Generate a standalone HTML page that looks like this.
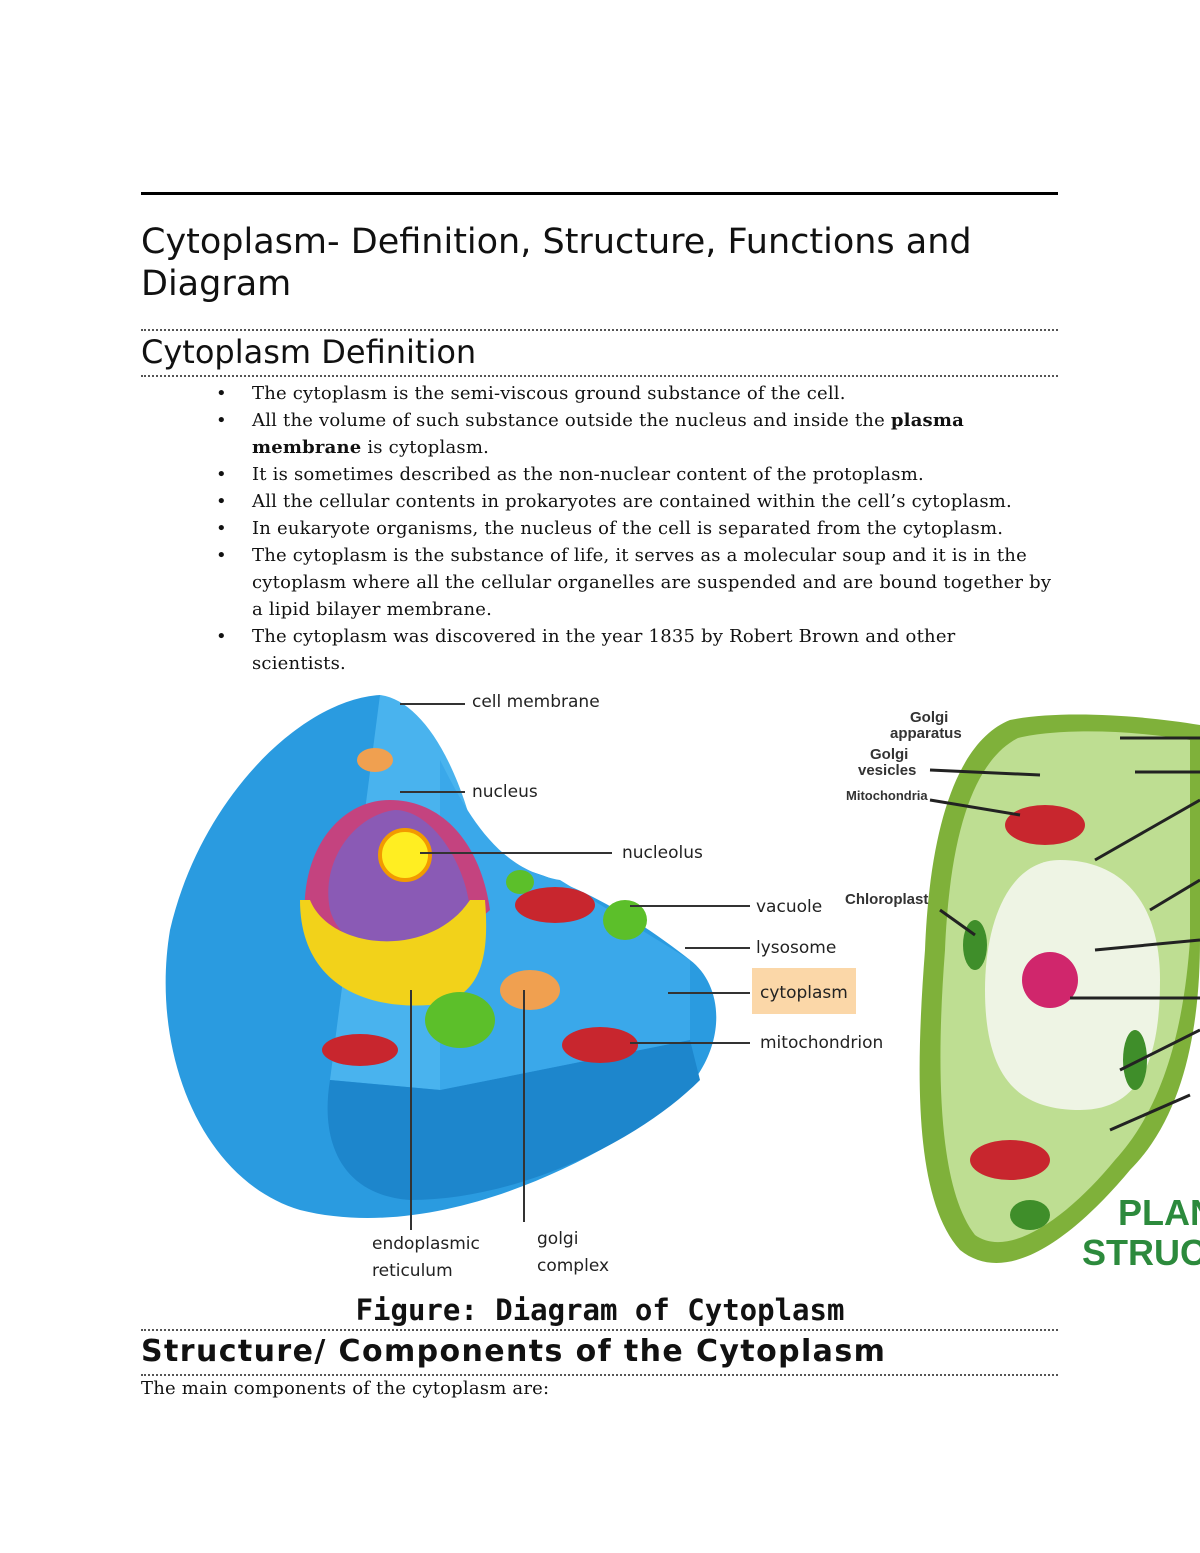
<!DOCTYPE html>
<html><head><meta charset="utf-8"><style>
body{margin:0;width:1200px;height:1553px;background:#fff;position:relative;overflow:hidden;font-family:"DejaVu Sans","Liberation Sans",sans-serif;color:#111}
.a{position:absolute;white-space:nowrap}
.dot{position:absolute;left:141px;width:917px;height:0;border-top:2px dotted #555}
.b{position:absolute;left:252px;font-family:"DejaVu Serif","Liberation Serif",serif;font-size:18px;letter-spacing:0.2px;line-height:27px;white-space:nowrap}
.b:before{content:"•";position:absolute;left:-36px}
.lbl{font-family:"DejaVu Sans",sans-serif;font-size:17px;fill:#222}
</style></head><body>
<div class="a" style="left:141px;top:192px;width:917px;height:3px;background:#000"></div>
<div class="a" style="left:141px;top:221px;font-size:35px;line-height:42px">Cytoplasm- Definition, Structure, Functions and<br>Diagram</div>
<div class="dot" style="top:329px"></div>
<div class="a" style="left:141px;top:333px;font-size:32px;line-height:38px">Cytoplasm Definition</div>
<div class="dot" style="top:375px"></div>
<div class="b" style="top:380px">The cytoplasm is the semi-viscous ground substance of the cell.</div>
<div class="b" style="top:407px">All the volume of such substance outside the nucleus and inside the <b>plasma</b><br><b>membrane</b> is cytoplasm.</div>
<div class="b" style="top:461px">It is sometimes described as the non-nuclear content of the protoplasm.</div>
<div class="b" style="top:488px">All the cellular contents in prokaryotes are contained within the cell’s cytoplasm.</div>
<div class="b" style="top:515px">In eukaryote organisms, the nucleus of the cell is separated from the cytoplasm.</div>
<div class="b" style="top:542px">The cytoplasm is the substance of life, it serves as a molecular soup and it is in the<br>cytoplasm where all the cellular organelles are suspended and are bound together by<br>a lipid bilayer membrane.</div>
<div class="b" style="top:623px">The cytoplasm was discovered in the year 1835 by Robert Brown and other<br>scientists.</div>

<svg class="a" style="left:0;top:680px" width="1200" height="610" viewBox="0 680 1200 610">
<path d="M380 695 C300 700 200 800 170 930 C150 1050 200 1180 300 1210 C420 1240 560 1180 650 1120 C730 1070 730 990 690 960 C640 920 560 870 480 860 L440 760 Z" fill="#2a9be0"/>
<path d="M380 695 C420 700 460 760 480 860 L440 1090 L330 1080 Z" fill="#49b3ee"/>
<path d="M330 1080 L440 1090 L690 1040 L700 1080 C640 1140 520 1200 410 1200 C340 1195 320 1140 330 1080Z" fill="#1d86cc"/>
<path d="M440 760 C470 820 500 870 560 880 L690 960 L690 1040 L440 1090Z" fill="#3aa8ea"/>
<path d="M390 800 C340 800 300 850 305 920 C310 960 340 990 400 990 L490 910 C480 840 440 800 390 800Z" fill="#c4437f"/>
<path d="M395 810 C355 815 320 860 330 910 C340 945 380 960 420 950 L470 910 C465 860 430 810 395 810Z" fill="#8a5ab5"/>
<path d="M300 900 C300 980 360 1010 430 1005 C480 1000 490 960 485 900 L470 900 C430 960 330 950 310 900Z" fill="#f2d21a"/>
<circle cx="405" cy="855" r="25" fill="#ffee22" stroke="#f29a00" stroke-width="4"/>
<ellipse cx="460" cy="1020" rx="35" ry="28" fill="#5cbf2a"/><ellipse cx="625" cy="920" rx="22" ry="20" fill="#5cbf2a"/><ellipse cx="520" cy="882" rx="14" ry="12" fill="#5cbf2a"/>
<ellipse cx="555" cy="905" rx="40" ry="18" fill="#c8262e"/><ellipse cx="360" cy="1050" rx="38" ry="16" fill="#c8262e"/><ellipse cx="600" cy="1045" rx="38" ry="18" fill="#c8262e"/>
<ellipse cx="530" cy="990" rx="30" ry="20" fill="#f0a050"/><ellipse cx="375" cy="760" rx="18" ry="12" fill="#f0a050"/>
<g stroke="#333" stroke-width="2"><line x1="400" y1="704" x2="465" y2="704"/><line x1="400" y1="792" x2="465" y2="792"/><line x1="420" y1="853" x2="612" y2="853"/><line x1="630" y1="906" x2="750" y2="906"/><line x1="685" y1="948" x2="750" y2="948"/><line x1="668" y1="993" x2="750" y2="993"/><line x1="630" y1="1043" x2="750" y2="1043"/><line x1="411" y1="990" x2="411" y2="1230"/><line x1="524" y1="990" x2="524" y2="1222"/></g>
<rect x="752" y="968" width="104" height="46" fill="#fbd7a8"/>
<g class="lbl"><text x="472" y="707">cell membrane</text><text x="472" y="797">nucleus</text><text x="622" y="858">nucleolus</text><text x="756" y="912">vacuole</text><text x="756" y="953">lysosome</text><text x="760" y="998">cytoplasm</text><text x="760" y="1048">mitochondrion</text><text x="372" y="1249">endoplasmic</text><text x="372" y="1276">reticulum</text><text x="537" y="1244">golgi</text><text x="537" y="1271">complex</text></g>
<path d="M1010 720 C960 740 930 820 925 950 C915 1080 915 1200 960 1250 C1010 1290 1080 1230 1130 1170 C1190 1110 1200 1010 1200 940 L1200 725 C1140 715 1060 710 1010 720Z" fill="#7fb13a"/>
<path d="M1018 738 C975 760 950 830 945 950 C935 1080 940 1190 975 1235 C1010 1260 1070 1215 1115 1160 C1170 1100 1185 1010 1190 940 L1190 740 C1130 730 1060 728 1018 738Z" fill="#bede92"/>
<path d="M1060 860 C1010 860 985 920 985 990 C985 1080 1020 1110 1080 1110 C1140 1110 1160 1060 1160 980 C1160 900 1120 860 1060 860Z" fill="#eef4e4"/>
<circle cx="1050" cy="980" r="28" fill="#d0266c"/>
<ellipse cx="1045" cy="825" rx="40" ry="20" fill="#c8262e"/><ellipse cx="1010" cy="1160" rx="40" ry="20" fill="#c8262e"/>
<ellipse cx="975" cy="945" rx="12" ry="25" fill="#3f8e2a"/><ellipse cx="1030" cy="1215" rx="20" ry="15" fill="#3f8e2a"/><ellipse cx="1135" cy="1060" rx="12" ry="30" fill="#3f8e2a"/>
<g stroke="#222" stroke-width="3"><line x1="1120" y1="738" x2="1200" y2="738"/><line x1="1135" y1="772" x2="1200" y2="772"/><line x1="1095" y1="860" x2="1200" y2="800"/><line x1="1150" y1="910" x2="1200" y2="880"/><line x1="1095" y1="950" x2="1200" y2="940"/><line x1="1070" y1="998" x2="1200" y2="998"/><line x1="1120" y1="1070" x2="1200" y2="1030"/><line x1="1110" y1="1130" x2="1190" y2="1095"/><line x1="930" y1="770" x2="1040" y2="775"/><line x1="930" y1="800" x2="1020" y2="815"/><line x1="940" y1="910" x2="975" y2="935"/></g>
<g font-family="Liberation Sans,sans-serif" font-weight="bold" fill="#333" font-size="15"><text x="910" y="722">Golgi</text><text x="890" y="738">apparatus</text><text x="870" y="759">Golgi</text><text x="858" y="775">vesicles</text><text x="846" y="800" font-size="13">Mitochondria</text><text x="845" y="904">Chloroplast</text></g>
<g font-family="Liberation Sans,sans-serif" font-weight="bold" fill="#2c8a3c" font-size="36"><text x="1118" y="1225">PLAN</text><text x="1082" y="1265">STRUC</text></g>
</svg>

<div class="a" style="left:0;width:1200px;text-align:center;top:1292px;font-size:29px;font-weight:bold;line-height:36px;font-family:'DejaVu Sans Mono',monospace">Figure: Diagram of Cytoplasm</div>
<div class="dot" style="top:1329px"></div>
<div class="a" style="left:141px;top:1333px;font-size:30px;font-weight:bold;line-height:38px;letter-spacing:1.4px">Structure/ Components of the Cytoplasm</div>
<div class="dot" style="top:1374px"></div>
<div class="a" style="left:141px;top:1378px;font-family:'DejaVu Serif',serif;font-size:18px;letter-spacing:0.2px">The main components of the cytoplasm are:</div>
</body></html>
